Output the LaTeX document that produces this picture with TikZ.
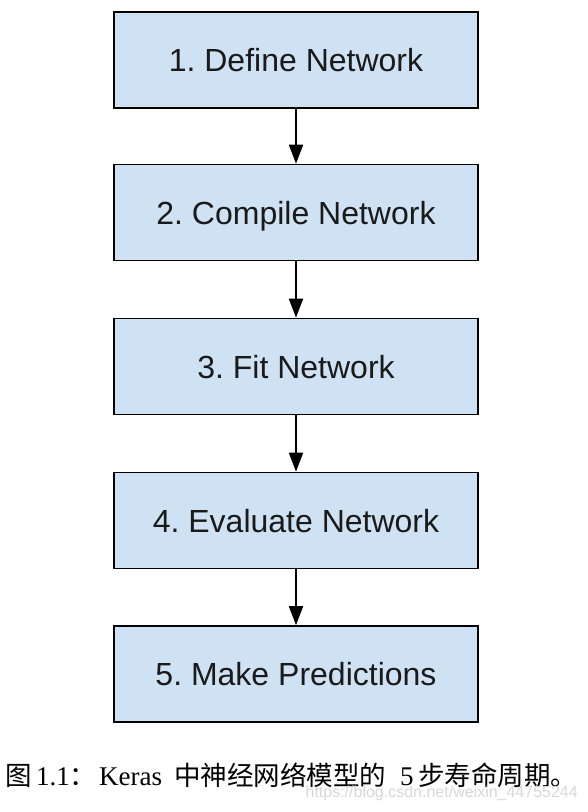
\documentclass[tikz,border=0pt]{standalone}
\usepackage{fontspec}
\setmainfont{Liberation Serif}
\newfontfamily\boxfont{Liberation Sans}
\newfontfamily\cjkfont{Noto Sans CJK SC}
\usetikzlibrary{arrows.meta}
\definecolor{boxfill}{HTML}{CFE2F3}
\definecolor{boxtext}{HTML}{1A1A1A}
\definecolor{wmark}{HTML}{D8D8D8}
\frenchspacing
\begin{document}
\begin{tikzpicture}[x=1pt,y=-1pt,
  stepbox/.style={draw=black, line width=1.6pt, fill=boxfill, minimum width=364pt, minimum height=96pt, inner sep=0pt, text height=23pt, text depth=0pt, font=\boxfont\fontsize{32}{38}\selectfont, text=boxtext},
  flow/.style={line width=1.8pt, -{Triangle[length=19pt,width=14pt]}},
  capl/.style={anchor=base west, inner sep=0pt, font=\fontsize{27}{30}\selectfont},
  capc/.style={anchor=base west, inner sep=0pt, font=\cjkfont\fontsize{26.5}{30}\selectfont}]
\useasboundingbox (0,0) rectangle (587,812);
\node[stepbox] (s1) at (296,60) {1. Define Network};
\node[stepbox] (s2) at (296,212.5) {2. Compile Network};
\node[stepbox] (s3) at (296,366.5) {3. Fit Network};
\node[stepbox] (s4) at (296,520.5) {4. Evaluate Network};
\node[stepbox] (s5) at (296,674) {5. Make Predictions};
\draw[flow] (s1.south) -- (s2.north);
\draw[flow] (s2.south) -- (s3.north);
\draw[flow] (s3.south) -- (s4.north);
\draw[flow] (s4.south) -- (s5.north);
\node[capc] (c1) at (5,785) {图};
\node[capl] (c2) at (36,785) {1.1{\cjkfont\fontsize{26.5}{30}\selectfont ：}};
\node[capl] (c3) at (99,785) {Keras};
\node[capc] (c4) at (174,785) {中神经网络模型的};
\node[capl] (c5) at (400,785) {5};
\node[capc] (c6) at (418,785) {步寿命周期。};
\node[anchor=base east, inner sep=0pt, text=wmark, font=\boxfont\fontsize{16}{18}\selectfont] (wm) at (578,797) {https://blog.csdn.net/weixin\_44755244};
\end{tikzpicture}
\end{document}
